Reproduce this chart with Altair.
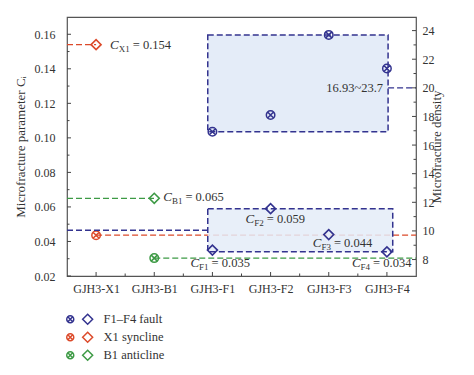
import altair as alt
import pandas as pd

# ---------------- data ----------------
categories = ["GJH3-X1", "GJH3-B1", "GJH3-F1", "GJH3-F2", "GJH3-F3", "GJH3-F4"]
subscripts = ["X1", "B1", "F1", "F2", "F3", "F4"]
groups = ["X1 syncline", "B1 anticline", "F1–F4 fault", "F1–F4 fault", "F1–F4 fault", "F1–F4 fault"]
ci_values = [0.154, 0.065, 0.035, 0.059, 0.044, 0.034]
density_values = [9.7, 8.1, 16.93, 18.1, 23.7, 21.35]
density_range_label = "16.93~23.7"
density_range_level = 20.0

legend_order = ["F1–F4 fault", "X1 syncline", "B1 anticline"]
colors = ["#33338f", "#dc4a2a", "#3d9a45"]

ci_ticks_major = [0.02, 0.04, 0.06, 0.08, 0.10, 0.12, 0.14, 0.16]
ci_ticks_minor = [0.03, 0.05, 0.07, 0.09, 0.11, 0.13, 0.15]
den_ticks_major = [8, 10, 12, 14, 16, 18, 20, 22, 24]
den_ticks_minor = [9, 11, 13, 15, 17, 19, 21, 23]
x_ticks_major = [0, 1, 2, 3, 4, 5]
x_ticks_minor = [0.5, 1.5, 2.5, 3.5, 4.5]

# ---------------- styles / layout ----------------
W, H = 349, 259
SERIF = "Liberation Serif"
TXT = "#333333"
PURPLE, RED, GREEN = colors
BOX_FILL = "#e4ecf8"
DASH = [6, 3]
FS = 12.5
box_left = 1.92
upper_box_right = 5.02
lower_box_right = 5.1
# label pixel offsets (start of "C") relative to each diamond
label_dx = [14, 9, -22, -25, -16, -35]
label_dy = [0, -1, 13, 10, 8, 11]
sub_width = {"X": 11.0, "B": 10.5, "F": 9.5}

df = pd.DataFrame({
    "idx": list(range(6)),
    "cat": categories,
    "group": groups,
    "ci": ci_values,
    "density": density_values,
})
fault = df[df["group"] == "F1–F4 fault"]

xscale = alt.Scale(domain=[-0.5, 5.5], nice=False, zero=False)
ci_scale = alt.Scale(domain=[0.02, 0.17], nice=False, zero=False)
den_scale = alt.Scale(domain=[6.85, 24.95], nice=False, zero=False)

label_expr = "[" + ",".join(f"'{c}'" for c in categories) + "][datum.value]"
x_axis = alt.Axis(values=x_ticks_major, labelExpr=label_expr, title=None, labelPadding=7,
                  ticks=False, domain=False, grid=False, labelFlush=False, labelOverlap=False)
ci_axis = alt.Axis(orient="left", values=ci_ticks_major, format=".2f",
                   title="Microfracture parameter Cᵢ", labelPadding=12, titlePadding=7,
                   ticks=False, domain=False, grid=False)
den_axis = alt.Axis(orient="right", values=den_ticks_major, format="d",
                    title="Microfracture density", titleAngle=270, labelPadding=6, titlePadding=9,
                    ticks=False, domain=False, grid=False)

color_enc = alt.Color("group:N", scale=alt.Scale(domain=legend_order, range=colors),
                      legend=alt.Legend(title=None, orient="none", legendX=-3, legendY=296,
                                        direction="vertical"))

def X(field):
    return alt.X(field, type="quantitative", scale=xscale, axis=x_axis)

def X2(field):
    return alt.X2(field)

def YL(field):
    return alt.Y(field, type="quantitative", scale=ci_scale, axis=ci_axis)

def YR(field):
    return alt.Y(field, type="quantitative", scale=den_scale, axis=den_axis)

# ---------------- right (density) group ----------------
upper_box = alt.Chart(pd.DataFrame({
    "x": [box_left], "x2": [upper_box_right],
    "y": [min(fault["density"])], "y2": [max(fault["density"])]})
).mark_rect(fill=BOX_FILL, stroke=PURPLE, strokeWidth=1.5, strokeDash=DASH).encode(
    x=X("x"), x2=X2("x2"), y=YR("y"), y2=alt.Y2("y2"))

right_lines_df = pd.DataFrame({
    "x": [0, 1, upper_box_right],
    "x2": [5.5, 5.5, 5.5],
    "y": [density_values[0], density_values[1], density_range_level],
    "c": [RED, GREEN, PURPLE],
})
right_lines = alt.Chart(right_lines_df).mark_rule(strokeWidth=1.3, strokeDash=DASH).encode(
    x=X("x"), x2=X2("x2"), y=YR("y"), color=alt.Color("c:N", scale=None))

cross_path = ("M-1,0A1,1,0,1,1,1,0A1,1,0,1,1,-1,0Z "
              "M-0.707,-0.707L0.707,0.707 M-0.707,0.707L0.707,-0.707")
circles = alt.Chart(df).mark_point(shape=cross_path, filled=False, size=72, strokeWidth=1.5,
                                   opacity=1).encode(
    x=X("idx"), y=YR("density"), color=color_enc)

range_text = alt.Chart(pd.DataFrame({"x": [upper_box_right], "y": [density_range_level],
                                     "t": [density_range_label]})).mark_text(
    align="right", baseline="middle", dx=-5, font=SERIF, fontSize=FS, color=TXT).encode(
    x=X("x"), y=YR("y"), text="t:N")

right_ticks_major = alt.Chart(pd.DataFrame({"v": den_ticks_major})).mark_rule(
    color="#444", strokeWidth=1).encode(y=YR("v"), x=alt.value(W - 4), x2=alt.value(W))
right_ticks_minor = alt.Chart(pd.DataFrame({"v": den_ticks_minor})).mark_rule(
    color="#444", strokeWidth=1).encode(y=YR("v"), x=alt.value(W - 2.5), x2=alt.value(W))

right_group = alt.layer(upper_box, right_lines, circles, range_text,
                        right_ticks_major, right_ticks_minor)

# ---------------- left (Ci) group ----------------
lower_box = alt.Chart(pd.DataFrame({
    "x": [box_left], "x2": [lower_box_right],
    "y": [min(fault["ci"])], "y2": [max(fault["ci"])]})
).mark_rect(fill=BOX_FILL, fillOpacity=0.85, stroke=PURPLE, strokeWidth=1.5,
            strokeDash=DASH).encode(x=X("x"), x2=X2("x2"), y=YL("y"), y2=alt.Y2("y2"))

ci_mid = (min(fault["ci"]) + max(fault["ci"])) / 2
left_lines_df = pd.DataFrame({
    "x": [-0.5, -0.5, -0.5],
    "x2": [0, 1, box_left],
    "y": [ci_values[0], ci_values[1], ci_mid],
    "c": [RED, GREEN, PURPLE],
})
left_lines = alt.Chart(left_lines_df).mark_rule(strokeWidth=1.3, strokeDash=DASH).encode(
    x=X("x"), x2=X2("x2"), y=YL("y"), color=alt.Color("c:N", scale=None))

diamonds = alt.Chart(df).mark_point(shape="diamond", filled=False, size=100,
                                    strokeWidth=1.6, opacity=1).encode(
    x=X("idx"), y=YL("ci"), color=color_enc)

label_layers = []
for i in range(6):
    base = alt.Chart(df).transform_filter(alt.datum.idx == i)
    dx, dy = label_dx[i], label_dy[i]
    sw = sub_width[subscripts[i][0]]
    label_layers.append(base.mark_text(text="C", align="left", baseline="middle", dx=dx, dy=dy,
                                       font=SERIF, fontStyle="italic", fontSize=13, color=TXT)
                        .encode(x=X("idx"), y=YL("ci")))
    label_layers.append(base.mark_text(text=subscripts[i], align="left", baseline="middle",
                                       dx=dx + 8.7, dy=dy + 4, font=SERIF, fontSize=9, color=TXT)
                        .encode(x=X("idx"), y=YL("ci")))
    label_layers.append(base.mark_text(text=f"= {ci_values[i]:.3f}", align="left",
                                       baseline="middle", dx=dx + 8.7 + sw + 3.0, dy=dy,
                                       font=SERIF, fontSize=FS, color=TXT)
                        .encode(x=X("idx"), y=YL("ci")))

left_ticks_major = alt.Chart(pd.DataFrame({"v": ci_ticks_major})).mark_rule(
    color="#444", strokeWidth=1).encode(y=YL("v"), x=alt.value(0), x2=alt.value(4))
left_ticks_minor = alt.Chart(pd.DataFrame({"v": ci_ticks_minor})).mark_rule(
    color="#444", strokeWidth=1).encode(y=YL("v"), x=alt.value(0), x2=alt.value(2.5))
x_ticks_maj = alt.Chart(pd.DataFrame({"v": x_ticks_major})).mark_rule(
    color="#444", strokeWidth=1).encode(x=X("v"), y=alt.value(H), y2=alt.value(H - 4))
x_ticks_min = alt.Chart(pd.DataFrame({"v": x_ticks_minor})).mark_rule(
    color="#444", strokeWidth=1).encode(x=X("v"), y=alt.value(H), y2=alt.value(H - 2.5))

left_group = alt.layer(lower_box, left_lines, diamonds, *label_layers,
                       left_ticks_major, left_ticks_minor, x_ticks_maj, x_ticks_min)

legend_symbol = ("M-0.7,0A0.7,0.7,0,1,1,0.7,0A0.7,0.7,0,1,1,-0.7,0Z "
                 "M-0.495,-0.495L0.495,0.495 M-0.495,0.495L0.495,-0.495 "
                 "M3.48,-1L4.48,0L3.48,1L2.48,0Z")

chart = alt.layer(right_group, left_group).resolve_scale(y="independent").properties(
    width=W, height=H,
    autosize=alt.AutoSizeParams(type="none"),
    padding={"left": 59, "top": 9, "right": 50, "bottom": 91},
).configure_view(stroke="#555555", strokeWidth=1.2).configure_axis(
    labelFont=SERIF, labelFontSize=12, labelColor=TXT,
    titleFont=SERIF, titleFontSize=13, titleFontWeight="normal", titleColor=TXT,
).configure_legend(
    symbolType=legend_symbol, symbolSize=100, symbolStrokeWidth=1.5,
    labelFont=SERIF, labelFontSize=12.5, labelColor=TXT, labelOffset=27,
    rowPadding=1, padding=0, symbolOffset=0,
)

chart.save("out.html", embed_options={"renderer": "svg", "actions": False})
